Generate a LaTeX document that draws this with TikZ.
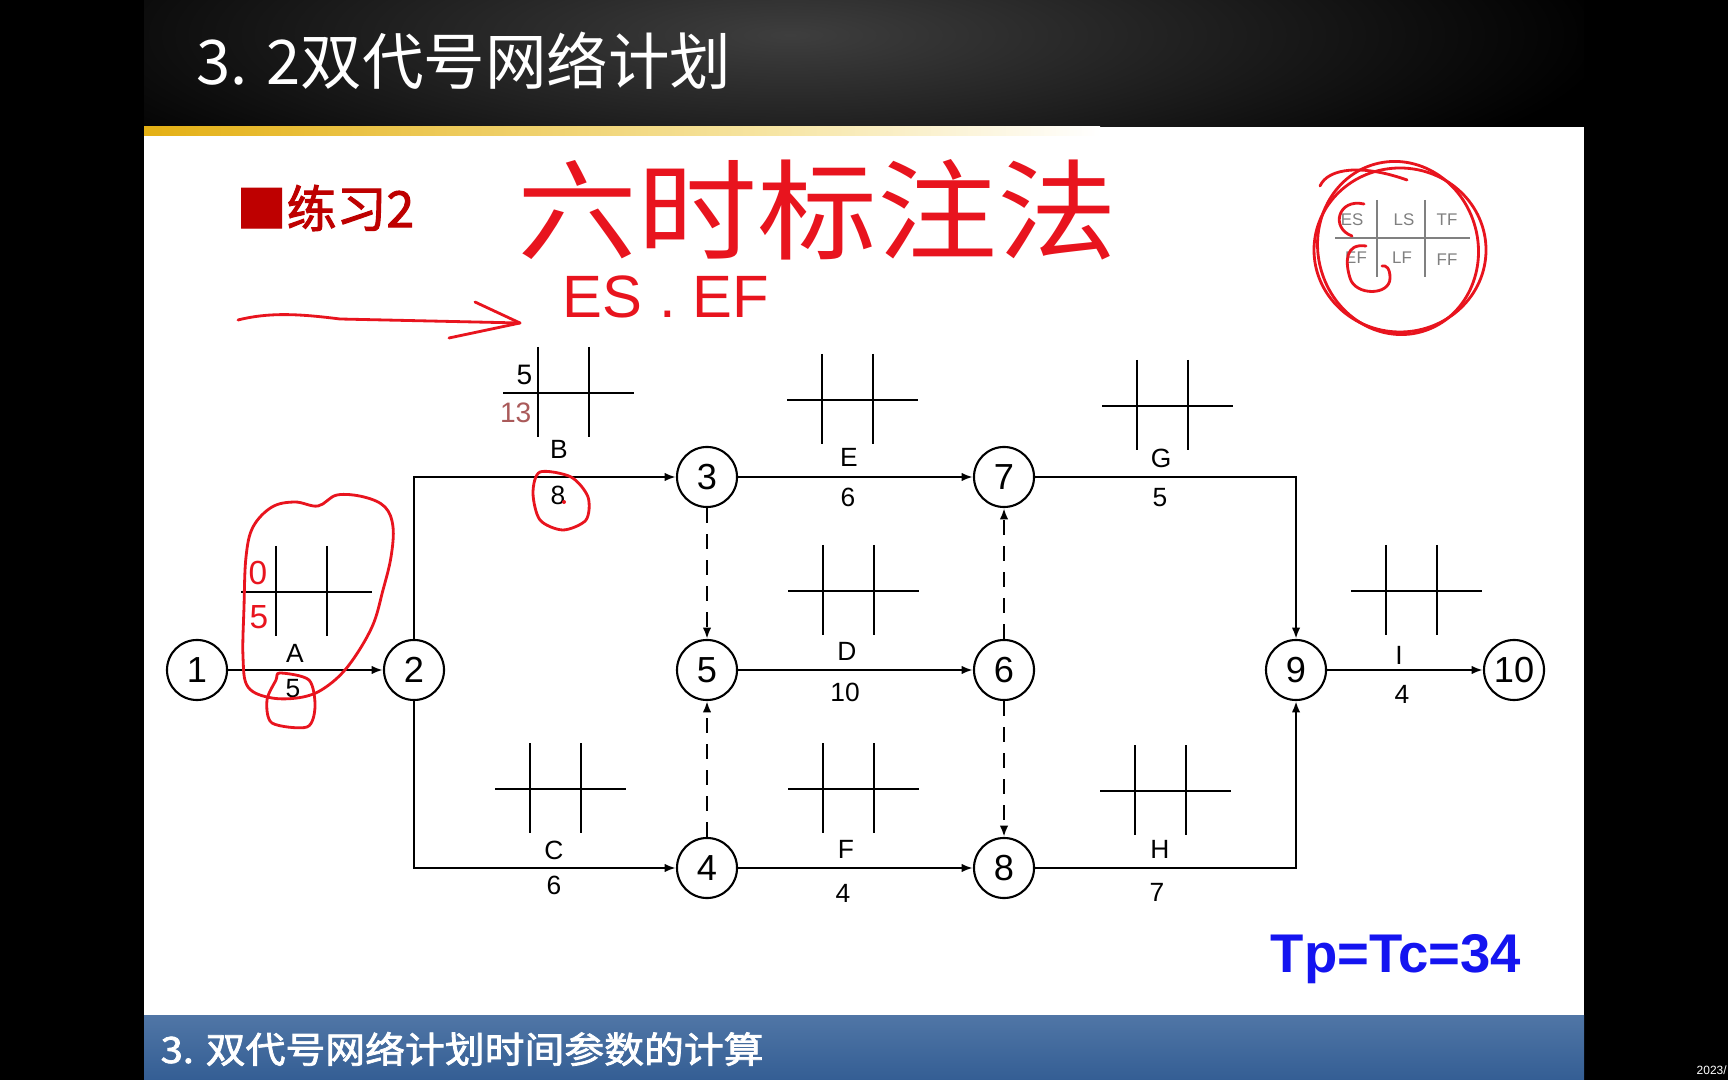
\documentclass[tikz,border=0pt]{standalone}
\usepackage{fontspec}
\usepackage{graphicx}
\setmainfont{Liberation Sans}
\newfontfamily\cjk{Noto Sans CJK SC}
\newfontfamily\cjkbold[FakeBold=2]{Noto Sans CJK SC}
\usetikzlibrary{arrows.meta}

\definecolor{inkred}{RGB}{232,20,30}
\definecolor{headred}{RGB}{190,0,0}
\definecolor{numred}{RGB}{170,90,90}
\definecolor{tpblue}{RGB}{20,20,240}
\definecolor{barblue}{RGB}{52,94,148}
\definecolor{barlight}{RGB}{80,118,166}
\definecolor{stripgold}{RGB}{228,176,20}
\definecolor{stripfade}{RGB}{246,228,160}

\begin{document}
\begin{tikzpicture}[x=0.01cm, y=-0.01cm,
		event/.style={circle, draw, line width=0.6pt, minimum size=0.6cm, inner sep=0pt, font=\fontsize{10.3}{12}\selectfont},
		act/.style={line width=0.7pt, -{Latex[length=3.2pt,width=2.4pt]}},
		dummy/.style={act, dash pattern=on 4.3pt off 3.1pt},
		lbl/.style={inner sep=0pt, font=\fontsize{7.5}{9}\selectfont},
		gridnum/.style={inner sep=0pt, anchor=east, font=\fontsize{8}{9}\selectfont},
		gridline/.style={line width=0.45pt},
		keytext/.style={inner sep=0pt, text=gray, font=\fontsize{4.8}{6}\selectfont},
		ink/.style={draw=inkred, line width=0.8pt, line cap=round, line join=round}]
		\useasboundingbox (0,0) rectangle (1728,1080);

		% Slide background
		\fill[black] (0,0) rectangle (1728,1080);
		\begin{scope}
			\clip (144,0) rectangle (1584,127);
			\shade[inner color={rgb,255:red,62;green,62;blue,62}, outer color=black] (790,35) ellipse (820 and 190);
		\end{scope}
		\shade[left color=stripgold, right color=stripfade] (144,127) rectangle (760,136);
		\shade[left color=stripfade, right color=white] (760,127) rectangle (1100,136);
		\fill[white] (1100,127) rectangle (1584,136);
		\fill[white] (144,136) rectangle (1584,1015);
		\shade[top color=barlight, bottom color=barblue] (144,1015) rectangle (1584,1080);

		% Titles
		\node[anchor=west, inner sep=0pt, text=white, font=\cjk\fontsize{17.5}{20}\selectfont] (title) at (196,61) {3. 2双代号网络计划};
		\node[anchor=west, inner sep=0pt, text=headred, font=\cjkbold\fontsize{14.2}{16}\selectfont] (exercise) at (236,208) {■练习2};
		\node[anchor=west, inner sep=0pt, text=white, font=\cjkbold\fontsize{10.3}{12}\selectfont] (footer) at (160,1049) {\scalebox{1.1}[1]{3. 双代号网络计划时间参数的计算}};
		\node[anchor=west, inner sep=0pt, text=white, font=\fontsize{3.4}{4}\selectfont] (date) at (1696,1070) {2023/};
		\node[anchor=base west, inner sep=0pt, text=tpblue, font=\bfseries\fontsize{15.5}{18}\selectfont] (tp) at (1270,972) {Tp=Tc=34};

		% Key of the time grid
		\draw[gridline, gray] (1335,238) -- (1470,238);
		\draw[gridline, gray] (1377,200) -- (1377,277);
		\draw[gridline, gray] (1425,200) -- (1425,277);
		\node[keytext] (kES) at (1352,220) {ES};
		\node[keytext] (kLS) at (1404,220) {LS};
		\node[keytext] (kTF) at (1447,220) {TF};
		\node[keytext] (kEF) at (1356,258) {EF};
		\node[keytext] (kLF) at (1402,258) {LF};
		\node[keytext] (kFF) at (1447,260) {FF};

		% Events
		\node[event] (n1) at (197,670) {1};
		\node[event] (n2) at (414,670) {2};
		\node[event] (n3) at (707,477) {3};
		\node[event] (n5) at (707,670) {5};
		\node[event] (n4) at (707,868) {4};
		\node[event] (n7) at (1004,477) {7};
		\node[event] (n6) at (1004,670) {6};
		\node[event] (n8) at (1004,868) {8};
		\node[event] (n9) at (1296,670) {9};
		\node[event] (n10) at (1514,670) {10};

		% Activities
		\draw[act] (n1) -- (n2);
		\draw[act] (n2.north) |- (n3.west);
		\draw[act] (n2.south) |- (n4.west);
		\draw[act] (n3) -- (n7);
		\draw[act] (n5) -- (n6);
		\draw[act] (n4) -- (n8);
		\draw[act] (n7.east) -| (n9.north);
		\draw[act] (n8.east) -| (n9.south);
		\draw[act] (n9) -- (n10);
		\draw[dummy] (n3) -- (n5);
		\draw[dummy] (n4) -- (n5);
		\draw[dummy] (n6) -- (n7);
		\draw[dummy] (n6) -- (n8);

		% Names and durations
		\node[lbl] (lA) at (295,653) {A};   \node[lbl] (dA) at (293,689) {5};
		\node[lbl] (lB) at (559,449) {B};   \node[lbl] (dB) at (558,495) {8};
		\node[lbl] (lC) at (554,850) {C};   \node[lbl] (dC) at (554,885) {6};
		\node[lbl] (lD) at (847,651) {D};   \node[lbl] (dD) at (845,692) {10};
		\node[lbl] (lE) at (849,457) {E};   \node[lbl] (dE) at (848,497) {6};
		\node[lbl] (lF) at (846,849) {F};   \node[lbl] (dF) at (843,893) {4};
		\node[lbl] (lG) at (1161,458) {G};  \node[lbl] (dG) at (1160,498) {5};
		\node[lbl] (lH) at (1160,849) {H};  \node[lbl] (dH) at (1157,892) {7};
		\node[lbl] (lI) at (1399,655) {I};  \node[lbl] (dI) at (1402,694) {4};

		% Time grids
		\foreach \gx/\gy in {276/592, 538/393, 530/789, 823/591, 822/400, 823/789, 1137/406, 1135/791, 1386/591} {
			\draw[gridline] (\gx-35,\gy) -- (\gx+96,\gy);
			\draw[gridline] (\gx,\gy-46) -- (\gx,\gy+44);
			\draw[gridline] (\gx+51,\gy-46) -- (\gx+51,\gy+44);
		}
		\node[gridnum] (esB) at (533,375) {5};
		\node[gridnum, text=numred] (efB) at (532,413) {13};

		% Handwriting
		\node[anchor=west, inner sep=0pt, text=inkred, font=\cjk\fontsize{31}{34}\selectfont] (hw) at (517,210) {\scalebox{1.1}[1]{六时标注法}};
		\node[anchor=west, inner sep=0pt, text=inkred, font=\fontsize{17}{20}\selectfont] (esef) at (562,297) {ES . EF};
		\node[inner sep=0pt, text=inkred, font=\fontsize{9.5}{11}\selectfont] (esA) at (258,573) {0};
		\node[inner sep=0pt, text=inkred, font=\fontsize{9.5}{11}\selectfont] (efA) at (259,617) {5};
		\draw[ink] (238,320) .. controls (270,312) and (300,314) .. (340,319) -- (520,323);
		\draw[ink] (475,302) -- (520,323) -- (449,338);
		\draw[ink] plot[smooth cycle, tension=0.6] coordinates {(318,506) (337,495) (364,497) (385,507) (393,527) (391,557) (383,590) (372,627) (349,665) (326,687) (303,697) (272,698) (248,687) (243,657) (244,607) (246,557) (253,527) (272,507) (295,502)};
		\draw[ink] plot[smooth cycle] coordinates {(280,673) (309,680) (315,707) (307,727) (272,723) (267,700) (276,680)};
		\draw[ink] plot[smooth cycle] coordinates {(540,472) (571,477) (588,497) (586,520) (563,530) (540,520) (533,493)};
		\fill[inkred] (564,502) circle (2);
		\draw[ink] (1400,250) ellipse (86 and 82);
		\draw[ink, rotate around={15:(1398,248)}] (1398,248) ellipse (80 and 87);
		\draw[ink] (1320,186) .. controls (1328,168) and (1362,164) .. (1407,180);
		\draw[ink] (1364,204) .. controls (1338,198) and (1330,228) .. (1352,236);
		\draw[ink] (1366,246) .. controls (1345,243) and (1345,262) .. (1350,278) .. controls (1355,296) and (1390,296) .. (1390,278) .. controls (1390,268) and (1386,265) .. (1382,266);
	\end{tikzpicture}
\end{document}
